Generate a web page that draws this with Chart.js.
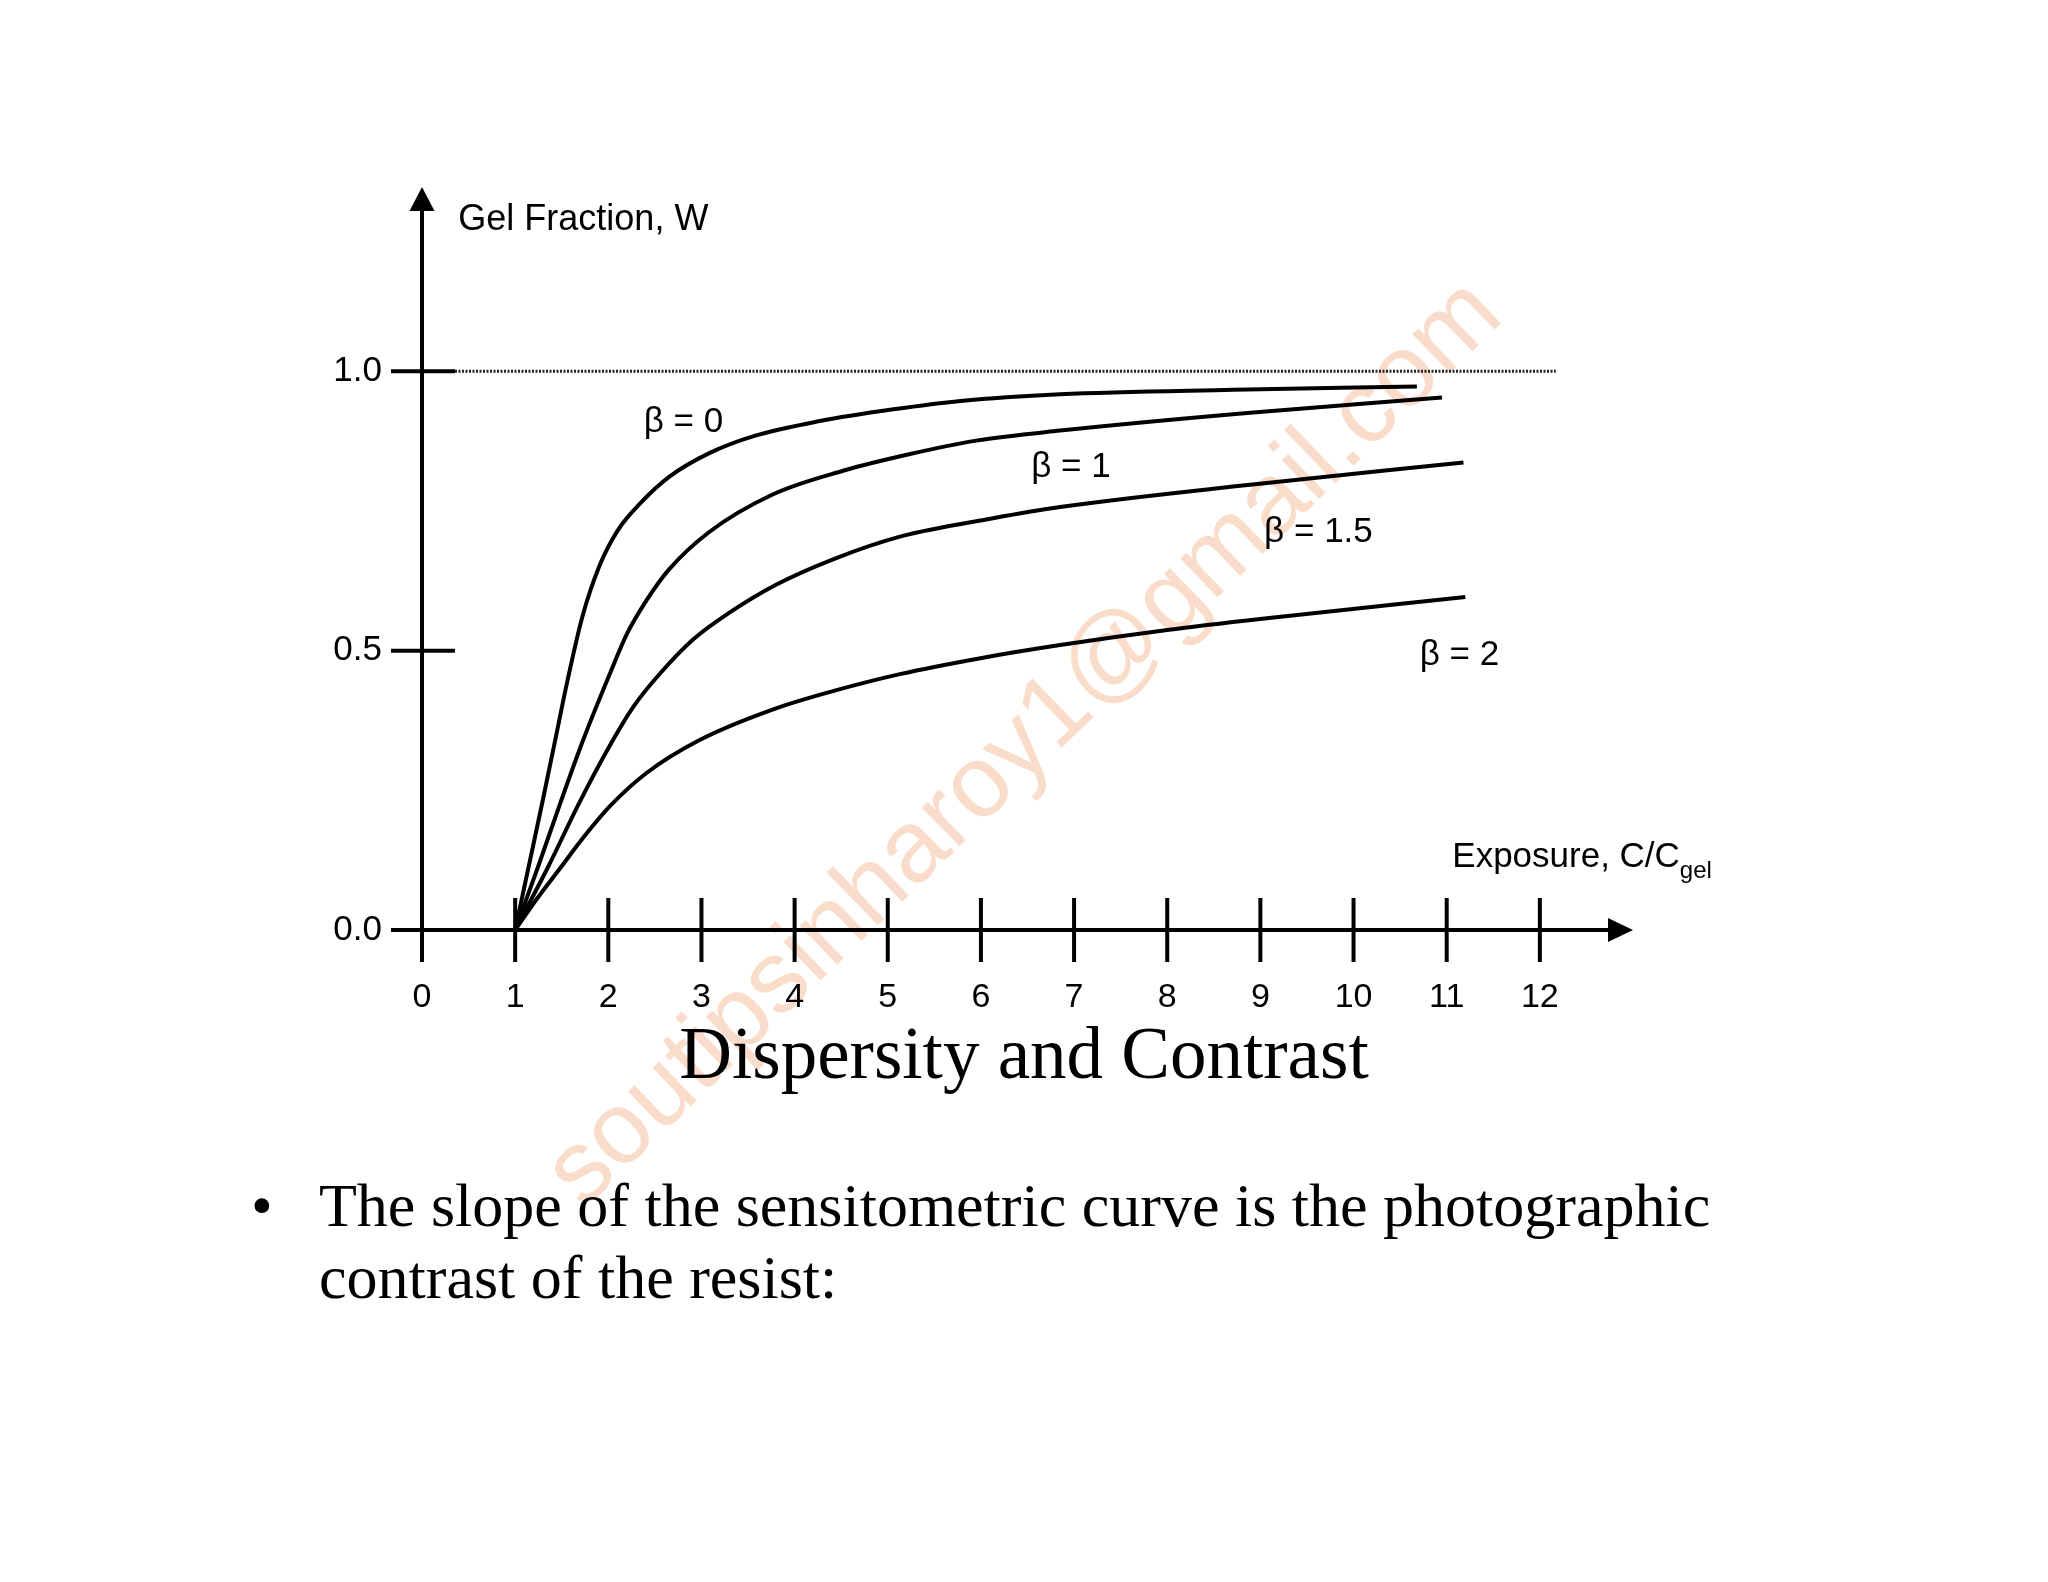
<!DOCTYPE html>
<html>
<head>
<meta charset="utf-8">
<title>Dispersity and Contrast</title>
<script src="https://cdn.jsdelivr.net/npm/chart.js@4.4.1/dist/chart.umd.min.js"></script>
<style>
  html, body { margin: 0; padding: 0; background: #fff; }
  #wrap { position: relative; width: 2048px; height: 1582px; overflow: hidden; }
  #wrap canvas { position: absolute; left: 0; top: 0; }
  .serif { position: absolute; font-family: "Liberation Serif", "Times New Roman", serif; color: #000; white-space: nowrap; }
  #title { left: 0; width: 2048px; top: 1017px; font-size: 73px; line-height: 73px; text-align: center; }
  #bullet { left: 251px; top: 1169px; font-size: 62px; line-height: 72px; }
  #body { left: 319px; top: 1169px; font-size: 62px; line-height: 72px; }
</style>
</head>
<body>
<div id="wrap">
  <canvas id="gelChart" width="2048" height="1582"></canvas>
  <div id="title" class="serif">Dispersity and Contrast</div>
  <div id="bullet" class="serif">•</div>
  <div id="body" class="serif">The slope of the sensitometric curve is the photographic<br>contrast of the resist:</div>
</div>
<script>
// tick values on the axes
const xTickValues = [0, 1, 2, 3, 4, 5, 6, 7, 8, 9, 10, 11, 12];
const yTickValues = [0, 0.5, 1.0];

// curve labels
const seriesLabels = ["β = 0", "β = 1", "β = 1.5", "β = 2"];

// gel fraction curves (exposure, W)
const beta0X = [1, 1.16, 1.30, 1.43, 1.56, 1.72, 1.90, 2.10, 2.35, 2.66, 3.09, 3.56, 4.27, 5.06, 5.78, 6.85, 8.71, 10.68];
const beta0Y = [0, 0.125, 0.235, 0.34, 0.445, 0.56, 0.65, 0.715, 0.765, 0.812, 0.854, 0.884, 0.911, 0.932, 0.947, 0.959, 0.967, 0.973];

const beta1X = [1, 1.25, 1.48, 1.73, 2.02, 2.20, 2.41, 2.65, 3.08, 3.77, 4.52, 5.24, 5.95, 6.85, 8.89, 10.95];
const beta1Y = [0, 0.115, 0.225, 0.34, 0.46, 0.53, 0.59, 0.645, 0.712, 0.78, 0.822, 0.852, 0.876, 0.894, 0.926, 0.953];

const beta15X = [1, 1.36, 1.68, 2.05, 2.27, 2.56, 2.91, 3.30, 3.80, 4.42, 5.15, 6.13, 6.85, 8.89, 11.18];
const beta15Y = [0, 0.115, 0.225, 0.34, 0.40, 0.46, 0.52, 0.568, 0.618, 0.664, 0.705, 0.737, 0.757, 0.797, 0.837];

const beta2X = [1, 1.23, 1.48, 1.73, 2.02, 2.41, 2.98, 3.77, 4.42, 5.13, 6.01, 6.85, 8.0, 9.07, 11.2];
const beta2Y = [0, 0.055, 0.11, 0.165, 0.222, 0.281, 0.34, 0.395, 0.428, 0.458, 0.487, 0.51, 0.537, 0.558, 0.596];

const watermark = "soutipsinharoy1@gmail.com";

const sans = '"Liberation Sans", Arial, Helvetica, sans-serif';

function toPoints(xs, ys) {
    return xs.map((x, i) => ({ x: x, y: ys[i] }));
}

function curve(label, xs, ys) {
    return {
        label: label,
        data: toPoints(xs, ys),
        borderColor: "#000",
        borderWidth: 4,
        pointRadius: 0,
        fill: false,
        cubicInterpolationMode: "monotone"
    };
}

// Axes with crossing ticks and arrows, watermark, and in-plot labels
const axisDecor = {
    id: "axisDecor",
    beforeDraw(chart) {
        const ctx = chart.ctx;
        ctx.save();
        ctx.translate(1025, 744);
        ctx.rotate(-44 * Math.PI / 180);
        ctx.font = "102px " + sans;
        ctx.fillStyle = "rgba(247, 196, 168, 0.6)";
        ctx.textAlign = "center";
        ctx.textBaseline = "middle";
        ctx.fillText(watermark, 0, 0);
        ctx.restore();
    },
    beforeDatasetsDraw(chart) {
        const { ctx, scales: { x, y } } = chart;
        const x0 = x.getPixelForValue(0);
        const y0 = y.getPixelForValue(0);
        const top = chart.chartArea.top;
        const right = chart.chartArea.right;

        ctx.save();
        ctx.strokeStyle = "#000";
        ctx.fillStyle = "#000";
        ctx.lineWidth = 4;
        ctx.lineCap = "butt";

        // dotted line at W = 1
        const y1 = y.getPixelForValue(1);
        ctx.save();
        ctx.lineWidth = 3;
        ctx.strokeStyle = "#222";
        ctx.setLineDash([2, 1.5]);
        ctx.beginPath();
        ctx.moveTo(x0 + 33, y1);
        ctx.lineTo(x.getPixelForValue(12.17), y1);
        ctx.stroke();
        ctx.restore();

        // y axis
        ctx.beginPath();
        ctx.moveTo(x0, y0 + 32);
        ctx.lineTo(x0, top + 22);
        ctx.stroke();
        ctx.beginPath();
        ctx.moveTo(x0, top);
        ctx.lineTo(x0 - 12.5, top + 24);
        ctx.lineTo(x0 + 12.5, top + 24);
        ctx.closePath();
        ctx.fill();

        // x axis
        ctx.beginPath();
        ctx.moveTo(x0 - 31, y0);
        ctx.lineTo(right - 22, y0);
        ctx.stroke();
        ctx.beginPath();
        ctx.moveTo(right, y0);
        ctx.lineTo(right - 25, y0 - 12);
        ctx.lineTo(right - 25, y0 + 12);
        ctx.closePath();
        ctx.fill();

        // y ticks
        yTickValues.forEach(v => {
            if (v === 0) return;
            const py = y.getPixelForValue(v);
            ctx.beginPath();
            ctx.moveTo(x0 - 31, py);
            ctx.lineTo(x0 + 33, py);
            ctx.stroke();
        });

        // x ticks
        xTickValues.forEach(v => {
            const px = x.getPixelForValue(v);
            ctx.beginPath();
            ctx.moveTo(px, y0 - 32);
            ctx.lineTo(px, y0 + 32);
            ctx.stroke();
        });
        ctx.restore();
    },
    afterDatasetsDraw(chart) {
        const { ctx, scales: { x, y } } = chart;
        ctx.save();
        ctx.fillStyle = "#000";
        ctx.textAlign = "left";
        ctx.textBaseline = "alphabetic";

        // axis titles
        ctx.font = "36px " + sans;
        ctx.fillText("Gel Fraction, W", x.getPixelForValue(0.39), y.getPixelForValue(1.253));

        ctx.font = "35px " + sans;
        const ex = x.getPixelForValue(11.06);
        const ey = y.getPixelForValue(0.113);
        const main = "Exposure, C/C";
        ctx.fillText(main, ex, ey);
        const w = ctx.measureText(main).width;
        ctx.font = "24px " + sans;
        ctx.fillText("gel", ex + w, ey + 11);

        // curve labels
        const labelSpots = [[2.38, 0.892], [6.54, 0.810], [9.04, 0.695], [10.71, 0.475]];
        ctx.font = "35px " + sans;
        seriesLabels.forEach((t, i) => {
            ctx.fillText(t, x.getPixelForValue(labelSpots[i][0]), y.getPixelForValue(labelSpots[i][1]));
        });
        ctx.restore();
    }
};

const ctx = document.getElementById("gelChart").getContext("2d");

new Chart(ctx, {
    type: "line",
    data: {
        datasets: [
            curve(seriesLabels[0], beta0X, beta0Y),
            curve(seriesLabels[1], beta1X, beta1Y),
            curve(seriesLabels[2], beta15X, beta15Y),
            curve(seriesLabels[3], beta2X, beta2Y)
        ]
    },
    options: {
        responsive: false,
        devicePixelRatio: 1,
        animation: false,
        layout: { padding: { left: 322, top: 187, right: 415, bottom: 552 } },
        scales: {
            x: {
                type: "linear",
                min: 0,
                max: 13,
                grid: { display: false, drawTicks: false },
                border: { display: false },
                afterBuildTicks: scale => { scale.ticks = xTickValues.map(v => ({ value: v })); },
                afterFit: scale => { scale.height = 100; },
                ticks: {
                    color: "#000",
                    font: { family: sans, size: 34 },
                    padding: 47,
                    maxRotation: 0,
                    autoSkip: false
                }
            },
            y: {
                type: "linear",
                min: 0,
                max: 1.33,
                grid: { display: false, drawTicks: false },
                border: { display: false },
                afterBuildTicks: scale => { scale.ticks = yTickValues.map(v => ({ value: v })); },
                afterFit: scale => { scale.width = 100; },
                ticks: {
                    color: "#000",
                    font: { family: sans, size: 35 },
                    padding: 40,
                    callback: v => Number(v).toFixed(1)
                }
            }
        },
        plugins: {
            legend: { display: false },
            tooltip: { enabled: false },
            title: { display: false }
        }
    },
    plugins: [axisDecor]
});
</script>
</body>
</html>
